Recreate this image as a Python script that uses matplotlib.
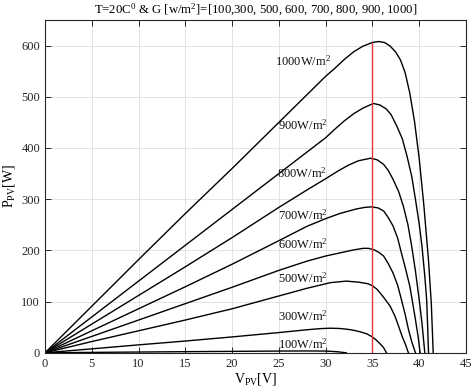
import matplotlib
matplotlib.use("Agg")
import matplotlib.pyplot as plt

plt.rcParams['font.family'] = ['Liberation Serif', 'DejaVu Serif']
plt.rcParams['mathtext.fontset'] = 'custom'
plt.rcParams['mathtext.rm'] = 'Liberation Serif'
plt.rcParams['mathtext.it'] = 'Liberation Serif:italic'
plt.rcParams['mathtext.bf'] = 'Liberation Serif:bold'

# ---- data ----
irradiance = [1000, 900, 800, 700, 600, 500, 300, 100]

v_1000 = [0, 5, 10, 15, 20, 25, 28, 30, 31, 32, 33, 34, 35, 35.65, 36.3, 36.9, 37.5, 38.0,
          38.5, 39.0, 39.5, 40.0, 40.5, 41.0, 41.3, 41.5]
p_1000 = [0, 91, 182, 272, 360, 450, 504, 540, 556, 573, 588, 599, 606, 608, 606, 599, 587, 572,
          547, 507, 452, 380, 288, 180, 95, 0]

v_900 = [0, 5, 10, 15, 20, 25, 28, 30, 31, 32, 33, 34, 35.1, 35.8, 36.5, 37.0, 37.6, 38.2,
         38.7, 39.2, 39.6, 40.0, 40.3, 40.6, 40.8, 40.9, 41.0]
p_900 = [0, 70, 140, 210, 280, 350, 392, 420, 437, 453, 467, 478, 487, 484, 476, 465, 443, 418,
         384, 345, 300, 252, 208, 150, 104, 55, 0]

v_800 = [0, 5, 10, 15, 20, 25, 28, 30, 31.5, 32.5, 33.5, 34.8, 35.5, 36.2, 36.7, 37.2, 37.8,
         38.3, 38.8, 39.2, 39.6, 40.0, 40.3, 40.6]
p_800 = [0, 56, 112, 168, 225, 284, 318, 340, 357, 367, 375, 380, 377, 368, 356, 339, 315,
         287, 250, 208, 160, 104, 58, 0]

v_700 = [0, 5, 10, 15, 20, 25, 28, 30, 31.5, 33.3, 34.2, 34.9, 35.6, 36.2, 36.7, 37.2, 37.7,
         38.1, 38.6, 39.0, 39.3, 39.6, 39.9, 40.1]
p_700 = [0, 43, 86, 129, 173, 219, 247, 262, 272, 281, 284, 285, 283, 277, 264, 248, 224,
         195, 160, 130, 98, 65, 30, 0]

v_600 = [0, 5, 10, 15, 20, 25, 28, 30, 31.5, 33, 34.0, 34.6, 35.2, 35.7, 36.2, 36.7, 37.2,
         37.7, 38.1, 38.5, 38.85, 39.2, 39.6]
p_600 = [0, 32, 64, 96, 128, 161, 179, 189, 195, 201, 204, 204, 201, 196, 189, 174, 156,
         132, 104, 75, 46, 22, 0]

v_500 = [0, 5, 10, 15, 20, 25, 28, 30.5, 32.2, 33.5, 34.5, 35.0, 35.5, 36.0, 36.5, 36.9,
         37.4, 37.8, 38.2, 38.5, 38.85]
p_500 = [0, 22, 43, 64, 86, 111, 126, 137, 140, 138, 135, 131, 124, 113, 101, 91,
         72, 52, 31, 18, 0]

v_300 = [0, 5, 10, 15, 20, 25, 28, 29.5, 30.5, 31.5, 32.3, 33, 33.7, 34.4, 35.0, 35.4,
         35.8, 36.2, 36.5]
p_300 = [0, 7.7, 15.5, 23, 31, 39.5, 45, 47.3, 48, 47.5, 46, 44, 41, 37, 31, 25,
         18, 10, 0]

v_100 = [0, 5, 10, 15, 20, 25, 28, 30, 31.3, 32.2]
p_100 = [0, 0.8, 1.5, 2.2, 2.8, 3.4, 3.6, 3.4, 2.0, 0]

curves_v = [v_1000, v_900, v_800, v_700, v_600, v_500, v_300, v_100]
curves_p = [p_1000, p_900, p_800, p_700, p_600, p_500, p_300, p_100]

mpp_voltage = 35
mpp_line_top = 605

x_ticks = [0, 5, 10, 15, 20, 25, 30, 35, 40, 45]
y_ticks = [0, 100, 200, 300, 400, 500, 600]

# label anchor points (layout)
label_xy = [(24.6, 560), (24.95, 435), (24.8, 342), (24.95, 261),
            (24.95, 203), (24.95, 138), (24.95, 63), (24.95, 8.6)]

fig = plt.figure(figsize=(4.74, 3.92), dpi=100)
ax = fig.add_axes([0.095, 0.1, 0.888, 0.849])

for v, p in zip(curves_v, curves_p):
    ax.plot(v, p, color='black', lw=1.0, solid_joinstyle='round')

ax.plot([mpp_voltage, mpp_voltage], [0, mpp_line_top], color='#e8323c', lw=1.0)

for g, (lx, ly) in zip(irradiance, label_xy):
    ax.text(lx, ly, f"{g}W/m$^2$", fontsize=9, ha='left', va='baseline', color='#111111')

ax.set_xlim(0, 45)
ax.set_ylim(0, 650)
ax.set_xticks(x_ticks)
ax.set_yticks(y_ticks)
ax.grid(True, color='#e3e3e3', lw=0.7)
ax.set_axisbelow(True)
ax.tick_params(direction='in', top=True, right=True, labelsize=9, length=4,
               colors='#262626', width=0.7)
for s in ax.spines.values():
    s.set_color('#262626')
    s.set_linewidth(0.8)

ax.set_title("T=20C$^0$ & G [w/m$^2$]=[100,300, 500, 600, 700, 800, 900, 1000]",
             fontsize=9.2, pad=5)
ax.set_xlabel("V$_{\\mathrm{PV}}$[V]", fontsize=10, labelpad=1)
ax.set_ylabel("P$_{\\mathrm{PV}}$[W]", fontsize=10, labelpad=3)

fig.savefig("out.png", dpi=100)
